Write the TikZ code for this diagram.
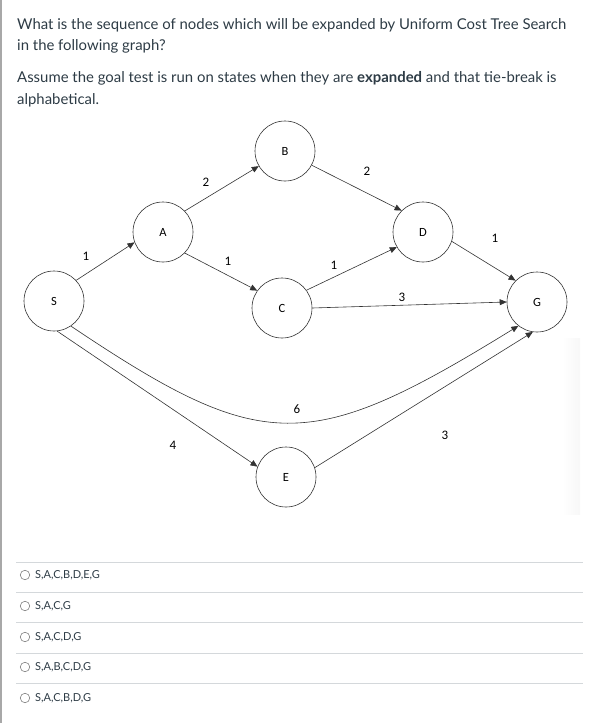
\documentclass[tikz,border=0pt]{standalone}
\usepackage{fontspec}
\setmainfont{Lato}
\newfontfamily\graphfont{Carlito}
\usetikzlibrary{arrows.meta}
\definecolor{ink}{HTML}{2D3B45}
\definecolor{rulegray}{HTML}{D4D8DB}
\definecolor{framegray}{HTML}{A8A8A8}

\begin{document}
\begin{tikzpicture}[x=1pt, y=-1pt,
    vertex/.style={draw=black!80, circle, minimum size=60pt, inner sep=0pt, line width=0.6pt, font=\graphfont\fontsize{12.5}{12.5}\selectfont},
    wt/.style={inner sep=0pt, font=\graphfont\fontsize{13}{13}\selectfont},
    arc/.style={draw=black!80, line width=0.6pt, -{Triangle[length=7pt,width=6pt]}},
    qline/.style={anchor=base west, inner sep=0pt, text=ink, font=\fontsize{14.9}{14.9}\selectfont},
    radio/.style={draw=gray, circle, minimum size=9.5pt, inner sep=0pt, line width=0.6pt},
    choice/.style={anchor=base west, inner sep=0pt, text=ink, font=\fontsize{11}{11}\selectfont}]

    \useasboundingbox (0,0) rectangle (593,723);
    \fill[framegray] (0,0) rectangle (2,723);
    \shade[left color=white, right color=black!3] (562,338) rectangle (580,514);

    % question text
    \node[qline] (q1) at (17,29) {What is the sequence of nodes which will be expanded by Uniform Cost Tree Search};
    \node[qline] (q2) at (17,50) {in the following graph?};
    \node[qline] (q3) at (17,82) {Assume the goal test is run on states when they are \textbf{expanded} and that tie-break is};
    \node[qline] (q4) at (17,104) {alphabetical.};

    % graph
    \node[vertex] (S) at (54,301) {S};
    \node[vertex] (A) at (163,232) {A};
    \node[vertex] (B) at (285,151) {B};
    \node[vertex] (C) at (282,308) {C};
    \node[vertex] (D) at (423,232) {D};
    \node[vertex] (G) at (537,302) {G};
    \node[vertex] (E) at (286,477) {E};

    \draw[arc] (S.43) -- (A.-160);
    \draw[arc] (A.44) -- (B.-150);
    \draw[arc] (A.-44) -- (C.145);
    \draw[arc] (B.-28) -- (D.135);
    \draw[arc] (C.36) -- (D.-150);
    \draw[arc] (C.east) -- (G.west);
    \draw[arc] (D.-18) -- (G.135);
    \draw[arc] (S.-84) -- (E.160);
    \draw[arc] (E.18) -- (G.-98);
    \draw[arc] (S.-56) .. controls (263,455) and (309,455) .. (G.-128);

    % edge costs
    \node[wt] (w-sa) at (86,256) {1};
    \node[wt] (w-ab) at (206,182) {2};
    \node[wt] (w-ac) at (228,261) {1};
    \node[wt] (w-bd) at (367,171) {2};
    \node[wt] (w-cd) at (334,265) {1};
    \node[wt] (w-cg) at (402,297) {3};
    \node[wt] (w-dg) at (495,238) {1};
    \node[wt] (w-sg) at (297,409) {6};
    \node[wt] (w-se) at (173,445) {4};
    \node[wt] (w-eg) at (445,435) {3};

    % answer choices
    \draw[rulegray] (16,562) -- (583,562);
    \draw[rulegray] (16,592) -- (583,592);
    \draw[rulegray] (16,622) -- (583,622);
    \draw[rulegray] (16,653) -- (583,653);
    \draw[rulegray] (16,683) -- (583,683);

    \node[radio] (r1) at (25,575) {};
    \node[choice] (c1) at (35,578) {S,A,C,B,D,E,G};
    \node[radio] (r2) at (25,606) {};
    \node[choice] (c2) at (35,609) {S,A,C,G};
    \node[radio] (r3) at (25,637) {};
    \node[choice] (c3) at (35,640) {S,A,C,D,G};
    \node[radio] (r4) at (25,667) {};
    \node[choice] (c4) at (35,670) {S,A,B,C,D,G};
    \node[radio] (r5) at (25,698) {};
    \node[choice] (c5) at (35,701) {S,A,C,B,D,G};
\end{tikzpicture}
\end{document}
